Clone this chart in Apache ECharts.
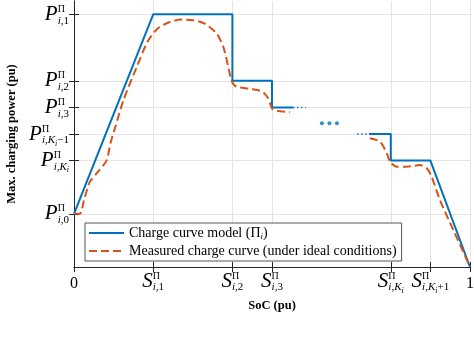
<!DOCTYPE html>
<html>
<head>
<meta charset="utf-8">
<script src="https://cdn.jsdelivr.net/npm/echarts@6/dist/echarts.min.js"></script>
<style>
html,body{margin:0;padding:0;background:#fff;}
#chart{width:474px;height:338px;}
</style>
</head>
<body>
<div id="chart"></div>
<script>
// axis ticks and their math labels (base|sup|sub, "_x" = sub-subscript)
var socTicks = [0, 0.2, 0.4, 0.5, 0.8, 0.9, 1];
var socLabels = ['0', 'S|Π|i,1', 'S|Π|i,2', 'S|Π|i,3', 'S|Π|i,K_i', 'S|Π|i,K_i+1', '1'];
var powerTicks = [0.2, 0.4, 0.5, 0.6, 0.7, 0.95];
var powerLabels = ['P|Π|i,0', 'P|Π|i,K_i', 'P|Π|i,K_i−1', 'P|Π|i,3', 'P|Π|i,2', 'P|Π|i,1'];

// charge curve model, null = break
var modelSoc   = [0, 0.2, 0.4, 0.4, 0.5, 0.5, 0.553, null, 0.745, 0.8, 0.8, 0.9, 1];
var modelPower = [0.2, 0.95, 0.95, 0.7, 0.7, 0.6, 0.6, null, 0.5, 0.5, 0.4, 0.4, 0];
// dotted continuation
var gapSoc   = [0.553, 0.585, null, 0.715, 0.745];
var gapPower = [0.6, 0.6, null, 0.5, 0.5];
// the "..." in the middle
var ellipsisSoc   = [0.626, 0.645, 0.664];
var ellipsisPower = [0.54, 0.54, 0.54];

// measured curve
var measSoc = [0, 0.015, 0.025, 0.04, 0.062, 0.082, 0.093, 0.105, 0.125, 0.158, 0.185, 0.21, 0.24, 0.27, 0.3, 0.33, 0.36, 0.377, 0.39, 0.398, 0.41, 0.444, 0.475, 0.49, 0.5, 0.512, 0.545,
	null, 0.747, 0.773, 0.79, 0.798, 0.815, 0.84, 0.874, 0.891, 0.903, 0.924, 0.958, 0.985, 1];
var measPower = [0.2, 0.2, 0.25, 0.32, 0.36, 0.4, 0.47, 0.53, 0.628, 0.75, 0.845, 0.895, 0.92, 0.93, 0.928, 0.915, 0.878, 0.828, 0.75, 0.7, 0.678, 0.67, 0.66, 0.635, 0.596, 0.588, 0.582,
	null, 0.484, 0.471, 0.427, 0.396, 0.377, 0.377, 0.383, 0.371, 0.34, 0.252, 0.139, 0.05, 0];

var legendTexts = {
	model: 'Charge curve model ({lt|Π}{li|i}{lt|)}',
	measured: 'Measured charge curve (under ideal conditions)'
};

var serif = 'Liberation Serif';
var axisColor = '#262626';
var gridColor = '#e4e4e4';

function pairs(xs, ys){
	var out = [];
	for(var i = 0; i < xs.length; i++){
		if(xs[i] == null){
			out.push(['-', '-']);
		}else{
			out.push([xs[i], ys[i]]);
		}
	}
	return out;
}

function mathLabel(txt){
	var parts = txt.split('|');
	if(parts.length < 3){
		return '{num|' + txt + '}';
	}
	var res = '{base|' + parts[0] + '}{sup|' + parts[1] + '}';
	var sub = parts[2];
	for(var i = 0; i < sub.length; i++){
		var c = sub.charAt(i);
		if(c == '_'){
			res += '{ssub|' + sub.charAt(i + 1) + '}';
			i++;
		}else if(/[a-zA-Z]/.test(c)){
			res += '{subi|' + c + '}';
		}else{
			res += '{sub|' + c + '}';
		}
	}
	return res;
}

function lookup(ticks, labels){
	return function(v){
		for(var i = 0; i < ticks.length; i++){
			if(Math.abs(ticks[i] - v) < 1e-6){
				return mathLabel(labels[i]);
			}
		}
		return '';
	};
}

var mathRich = {
	base: {fontFamily: serif, fontStyle: 'italic', fontSize: 21, lineHeight: 26, align: 'left', color: '#000'},
	num: {fontFamily: serif, fontSize: 16, lineHeight: 26, align: 'left', color: '#000', padding: [5, 0, 0, 0]},
	sup: {fontFamily: serif, fontSize: 10, lineHeight: 26, width: 0, align: 'left', color: '#000', padding: [0, 0, 10, 0]},
	subi: {fontFamily: serif, fontStyle: 'italic', fontSize: 11, lineHeight: 26, align: 'left', color: '#000', padding: [13, 0, 0, 0]},
	sub: {fontFamily: serif, fontSize: 11, lineHeight: 26, align: 'left', color: '#000', padding: [13, 0, 0, 0]},
	ssub: {fontFamily: serif, fontStyle: 'italic', fontSize: 8, lineHeight: 26, align: 'left', color: '#000', padding: [19, 0, 0, 0]}
};

var chart = echarts.init(document.getElementById('chart'));

var option = {
	animation: false,
	backgroundColor: '#fff',
	grid: {
		left: 74,
		right: 4,
		top: 1,
		bottom: 71,
		outerBoundsMode: 'none'
	},
	legend: {
		data: ['model', 'measured'],
		orient: 'vertical',
		left: 85,
		top: 223,
		itemWidth: 35,
		itemHeight: 14,
		itemGap: 2,
		padding: [2, 5, 2, 3],
		borderColor: '#555',
		borderWidth: 1,
		backgroundColor: '#fff',
		itemStyle: {color: 'rgba(0,0,0,0)', borderColor: 'rgba(0,0,0,0)', borderWidth: 0},
		formatter: function(name){
			return legendTexts[name];
		},
		textStyle: {
			fontFamily: serif,
			fontSize: 14,
			lineHeight: 16,
			color: '#000',
			rich: {
				lt: {fontFamily: serif, fontSize: 14, lineHeight: 16, color: '#000'},
				li: {fontFamily: serif, fontStyle: 'italic', fontSize: 9, lineHeight: 16, color: '#000', padding: [7, 0, 0, 0]}
			}
		}
	},
	xAxis: [
		{
			type: 'value',
			position: 'bottom',
			min: 0,
			max: 1,
			name: 'SoC (pu)',
			nameLocation: 'middle',
			nameGap: 29,
			nameTextStyle: {fontFamily: serif, fontWeight: 'bold', fontSize: 12.5, color: '#000'},
			axisLine: {lineStyle: {color: axisColor, width: 1}},
			axisTick: {inside: true, length: 5, customValues: socTicks, lineStyle: {color: axisColor}},
			axisLabel: {customValues: socTicks, margin: 1, formatter: lookup(socTicks, socLabels), rich: mathRich, hideOverlap: false},
			splitLine: {show: true, lineStyle: {color: gridColor, width: 1}}
		},
		{
			type: 'value',
			position: 'top',
			min: 0,
			max: 1,
			axisLine: {lineStyle: {color: axisColor, width: 1}},
			axisTick: {inside: true, length: 5, customValues: socTicks, lineStyle: {color: axisColor}},
			axisLabel: {show: false},
			splitLine: {show: false}
		}
	],
	yAxis: [
		{
			type: 'value',
			position: 'left',
			min: 0,
			max: 1,
			name: 'Max. charging power (pu)',
			nameLocation: 'middle',
			nameRotate: 90,
			nameGap: 56,
			nameTextStyle: {fontFamily: serif, fontWeight: 'bold', fontSize: 12.5, color: '#000'},
			axisLine: {lineStyle: {color: axisColor, width: 1}},
			axisTick: {inside: true, length: 5, customValues: powerTicks, lineStyle: {color: axisColor}},
			axisLabel: {customValues: powerTicks, margin: 5, formatter: lookup(powerTicks, powerLabels), rich: mathRich, hideOverlap: false},
			splitLine: {show: true, lineStyle: {color: gridColor, width: 1}}
		},
		{
			type: 'value',
			position: 'right',
			min: 0,
			max: 1,
			axisLine: {show: true, lineStyle: {color: axisColor, width: 1}},
			axisTick: {show: true, inside: true, length: 5, customValues: powerTicks, lineStyle: {color: axisColor}},
			axisLabel: {show: false},
			splitLine: {show: false}
		}
	],
	series: [
		{
			name: 'model',
			type: 'line',
			data: pairs(modelSoc, modelPower),
			symbol: 'none',
			connectNulls: false,
			lineStyle: {color: '#0072BD', width: 2},
			itemStyle: {color: '#0072BD'},
			z: 3
		},
		{
			name: 'modelGap',
			type: 'line',
			data: pairs(gapSoc, gapPower),
			symbol: 'none',
			connectNulls: false,
			lineStyle: {color: '#0072BD', width: 1.5, type: [1.5, 2.5]},
			z: 3
		},
		{
			name: 'ellipsis',
			type: 'scatter',
			data: pairs(ellipsisSoc, ellipsisPower),
			symbol: 'circle',
			symbolSize: 4,
			itemStyle: {color: '#0072BD'},
			z: 3
		},
		{
			name: 'measured',
			type: 'line',
			data: pairs(measSoc, measPower),
			symbol: 'none',
			smooth: 0.25,
			connectNulls: false,
			lineStyle: {color: '#D95319', width: 2, type: [8, 4]},
			itemStyle: {color: '#D95319'},
			z: 4
		}
	]
};

chart.setOption(option);
</script>
</body>
</html>
